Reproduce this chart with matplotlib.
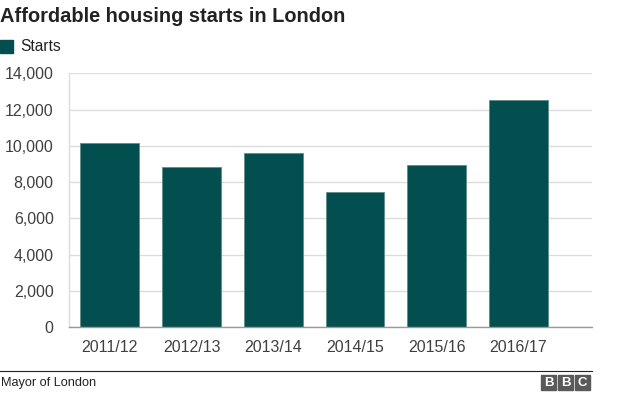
import matplotlib
matplotlib.use("Agg")
import matplotlib.pyplot as plt
from matplotlib.patches import Rectangle
from matplotlib.lines import Line2D

plt.rcParams['font.family'] = ['Liberation Sans', 'DejaVu Sans']

categories = ["2011/12", "2012/13", "2013/14", "2014/15", "2015/16", "2016/17"]
starts = [10150, 8830, 9610, 7450, 8940, 12530]
yticks = [0, 2000, 4000, 6000, 8000, 10000, 12000, 14000]

W, H = 624, 395
fig = plt.figure(figsize=(W / 100, H / 100), dpi=100)

def fx(px):
    return px / W

def fy(py):
    return 1 - py / H

# axes: left 69, right 592, top 73.3 (14000), bottom 327 (0)
ax = fig.add_axes([fx(69), fy(327), fx(592 - 69), (327 - 73.3) / H])
bar_color = '#034e4e'
x = list(range(len(categories)))
ax.bar(x, starts, width=0.72, color=bar_color, edgecolor='#5f8e8c', linewidth=0.6, zorder=3)
ax.set_xlim(-0.5, 5.9)
ax.set_ylim(0, 14000)
ax.set_yticks(yticks)
ax.set_yticklabels([f"{v:,}" for v in yticks])
ax.set_xticks(x)
ax.set_xticklabels(categories)
ax.yaxis.grid(True, color='#dcdcdc', linewidth=1, zorder=0)
ax.set_axisbelow(True)
for s in ['top', 'right']:
    ax.spines[s].set_visible(False)
ax.spines['left'].set_color('#dcdcdc')
ax.spines['left'].set_linewidth(1)
ax.spines['bottom'].set_color('#9a9a9a')
ax.spines['bottom'].set_linewidth(1)
ax.spines['bottom'].set_zorder(4)
ax.tick_params(axis='y', length=0, pad=11, labelsize=11.5, labelcolor='#404040')
ax.tick_params(axis='x', length=0, pad=9, labelsize=11.5, labelcolor='#404040')

# Title
fig.text(0, fy(17), "Affordable housing starts in London", fontsize=14.4, fontweight='bold',
         color='#222222', va='center', ha='left')
# Legend
fig.patches.append(Rectangle((fx(0), fy(53)), fx(13), 13 / H, transform=fig.transFigure,
                             color=bar_color))
fig.text(fx(20), fy(46.5), "Starts", fontsize=11.2, color='#222222', va='center', ha='left')

# Footer line
fig.lines.append(Line2D([fx(0), fx(592)], [fy(371), fy(371)], transform=fig.transFigure,
                        color='#222222', linewidth=0.8))
fig.text(fx(1), fy(383), "Mayor of London", fontsize=9.2, color='#222222', va='center', ha='left')

# BBC logo
for i, letter in enumerate("BBC"):
    x0 = 541 + i * 17
    fig.patches.append(Rectangle((fx(x0), fy(390)), fx(15), 15 / H, transform=fig.transFigure,
                                 color='#5a5a5a'))
    fig.text(fx(x0 + 7.5), fy(382.5), letter, fontsize=9.5, fontweight='bold', color='white',
             va='center', ha='center')

fig.savefig("out.png", dpi=100)
